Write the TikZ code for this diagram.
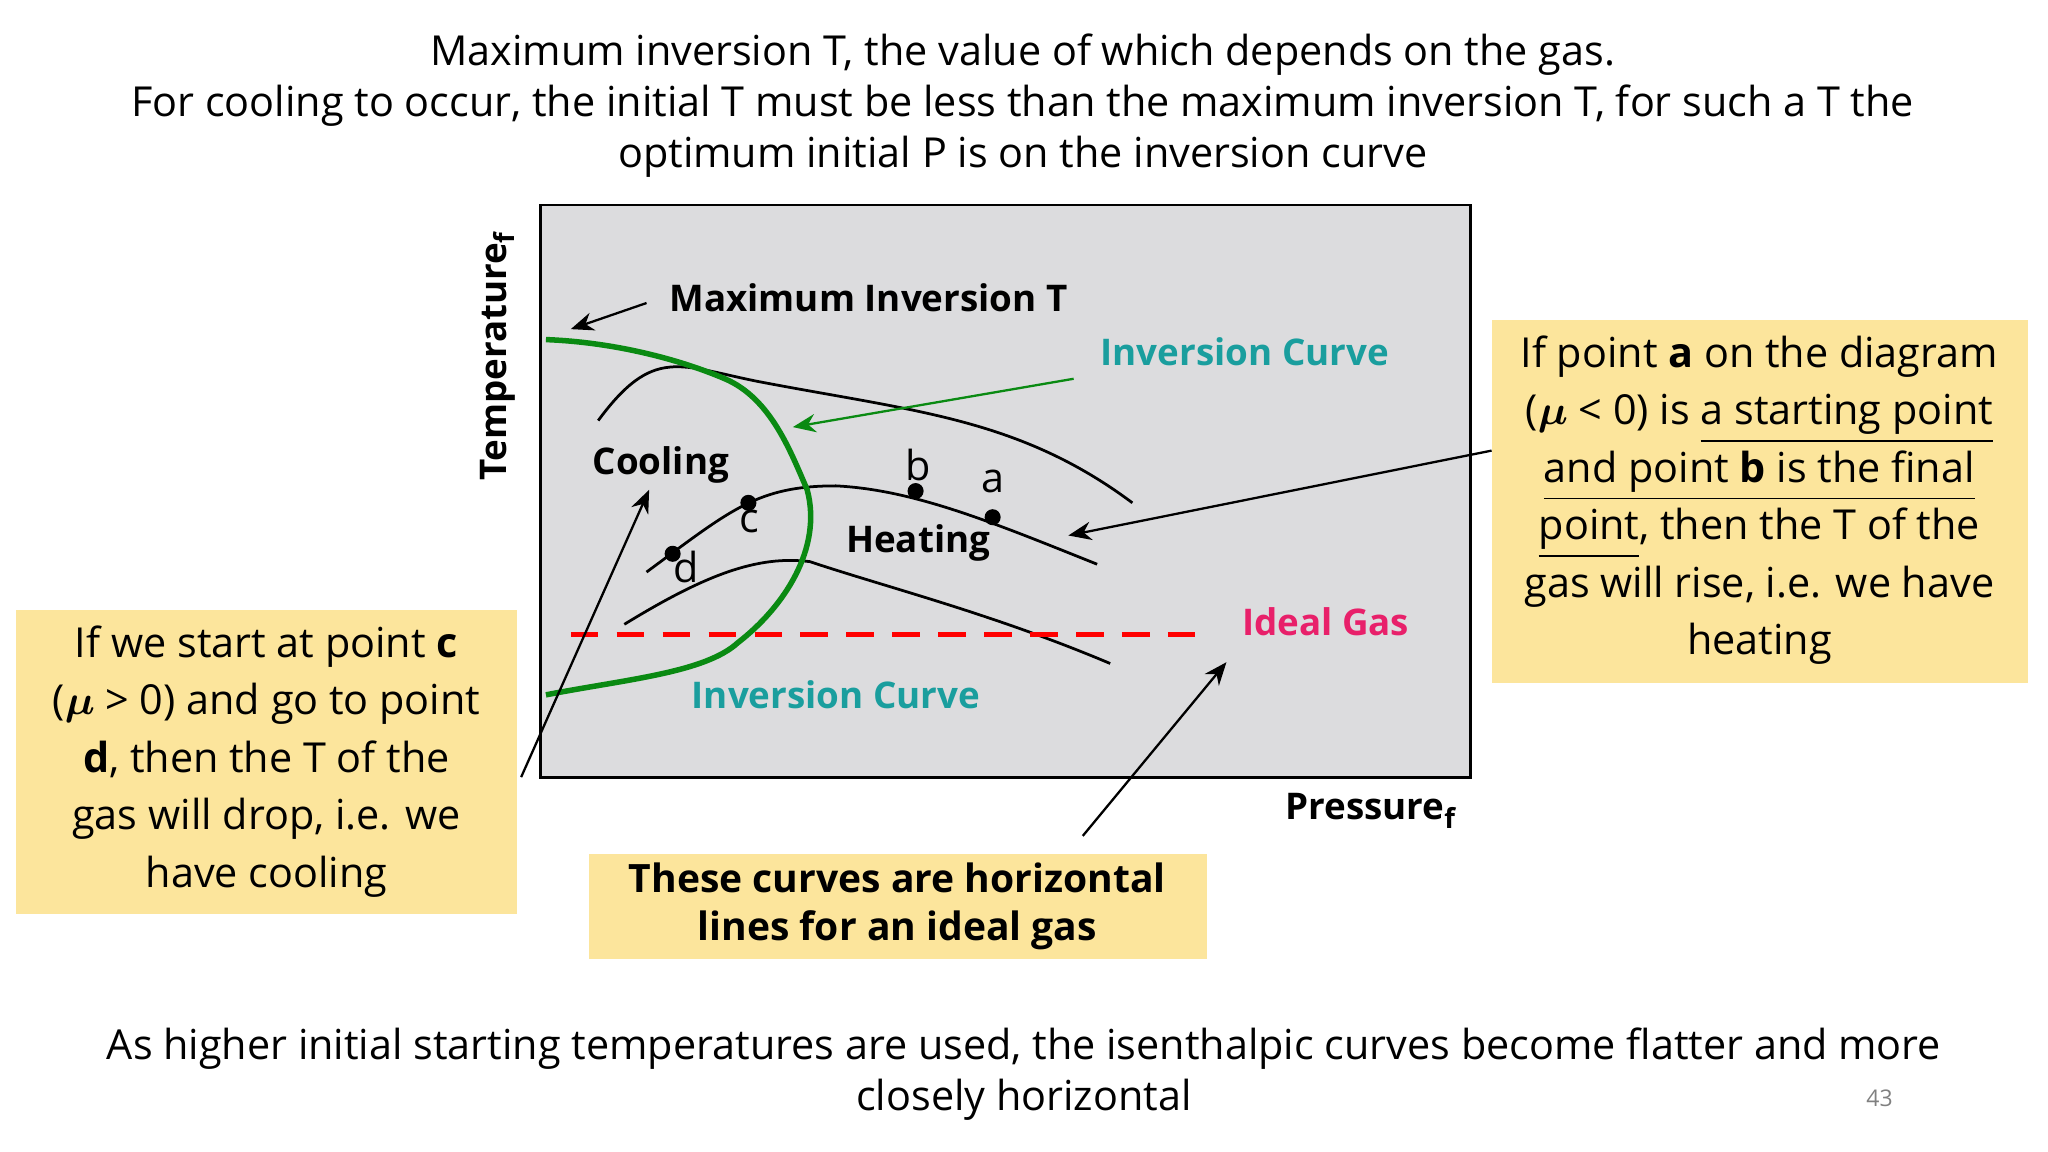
\documentclass[tikz,border=0pt]{standalone}
\usepackage{amsmath,amssymb}
\usepackage{bm}
\usepackage{fontspec}
\setmainfont{Open Sans}
\usetikzlibrary{arrows.meta}
\definecolor{boxy}{HTML}{FCE59C}
\definecolor{teal2}{HTML}{1A9E9E}
\definecolor{grn}{HTML}{0A8A12}
\definecolor{idc}{HTML}{E8206A}
\definecolor{plotbg}{HTML}{DCDCDE}
\tikzset{
 txt/.style={font=\fontsize{9}{11}\selectfont, inner sep=0pt, align=center},
 lbl/.style={font=\fontsize{8}{10}\selectfont\bfseries, inner sep=0pt},
 ybox/.style={fill=boxy, draw=none},
 thinarrow/.style={-{Stealth[length=5pt,width=4pt]}, line width=0.5pt},
 curv/.style={line width=0.6pt},
 dotn/.style={circle, fill=black, inner sep=0pt, minimum size=3.5pt},
}
\begin{document}
\begin{tikzpicture}[x=0.01cm,y=-0.01cm]
\useasboundingbox (0,0) rectangle (1568,882);
\fill[white] (0,0) rectangle (1568,882);
% title
\node[txt] (t1) at (783,42) {Maximum inversion T, the value of which depends on the gas.};
\node[txt] (t2) at (783,81) {For cooling to occur, the initial T must be less than the maximum inversion T, for such a T the};
\node[txt] (t3) at (783,120) {optimum initial P is on the inversion curve};
% plot box
\draw[fill=plotbg, line width=0.6pt] (414,157) rectangle (1126,595);
\node[lbl, rotate=90] (ty) at (381,272) {Temperature\textsubscript{f}};
\node[lbl] (px) at (1050,621) {Pressure\textsubscript{f}};
% curves
\draw[curv] (458,322) .. controls (500,265) and (520,280) .. (580,292) .. controls (700,315) and (780,320) .. (867,385);
\draw[curv] (495,438) .. controls (560,390) and (580,372) .. (640,372) .. controls (700,375) and (760,400) .. (840,432);
\draw[curv] (478,478) .. controls (540,440) and (580,425) .. (620,430) .. controls (680,450) and (760,470) .. (850,508);
\draw[grn, line width=1.2pt] (418,260) .. controls (470,262) and (520,275) .. (555,290) .. controls (590,305) and (605,345) .. (618,375) .. controls (630,420) and (600,465) .. (565,492) .. controls (540,515) and (480,520) .. (418,532);
\draw[red, line width=1pt, dash pattern=on 6pt off 4pt] (437,486) -- (925,486);
% points
\node[dotn] (pc) at (573,385) {};
\node[dotn] (pd) at (515,424) {};
\node[dotn] (pb) at (701,376) {};
\node[dotn] (pa) at (760,396) {};
\node[txt] (lb) at (703,356) {b};
\node[txt] (la) at (760,369) {a};
\node[txt] (lc) at (574,399) {c};
\node[txt] (ld) at (525,434) {d};
\node[lbl] (cool) at (506,356) {Cooling};
\node[lbl] (heat) at (703,416) {Heating};
% labels
\node[lbl] (mit) at (665,228) {Maximum Inversion T};
\coordinate (mitA) at (495,232);
\coordinate (mitB) at (437,252);
\draw[thinarrow] (mitA) -- (mitB);
\node[lbl, text=teal2] (ic1) at (953,269) {Inversion Curve};
\coordinate (icA) at (822,290);
\coordinate (icB) at (607,327);
\draw[thinarrow, grn] (icA) -- (icB);
\node[lbl, text=teal2] (ic2) at (640,532) {Inversion Curve};
\node[lbl, text=idc] (ig) at (1015,476) {Ideal Gas};
% left box
\fill[ybox] (12,467) rectangle (396,700);
\node[txt, font=\fontsize{9}{12.5}\selectfont] (lt) at (204,583) {If we start at point \textbf{c}\\($\bm{\mu}$ > 0) and go to point\\\textbf{d}, then the T of the\\gas will drop, i.e. we\\have cooling};
\coordinate (lA) at (399,595);
\coordinate (lB) at (497,375);
\draw[thinarrow] (lA) -- (lB);
% right box
\fill[ybox] (1142,245) rectangle (1553,523);
\node[txt, font=\fontsize{9}{12.5}\selectfont] (rt) at (1347,383) {If point \textbf{a} on the diagram\\($\bm{\mu}$ < 0) is \underline{a starting point}\\\underline{and point \textbf{b} is the final}\\\underline{point}, then the T of the\\gas will rise, i.e. we have\\heating};
\coordinate (rA) at (1142,345);
\coordinate (rB) at (818,410);
\draw[thinarrow] (rA) -- (rB);
% bottom box
\fill[ybox] (451,654) rectangle (924,734);
\node[txt, font=\fontsize{8.5}{10.5}\selectfont\bfseries] (bt) at (687,694) {These curves are horizontal\\lines for an ideal gas};
\coordinate (bA) at (829,640);
\coordinate (bB) at (939,507);
\draw[thinarrow] (bA) -- (bB);
% bottom text
\node[txt] (f1) at (784,803) {As higher initial starting temperatures are used, the isenthalpic curves become flatter and more};
\node[txt] (f2) at (784,842) {closely horizontal};
\node[txt, text=gray, font=\fontsize{5}{6}\selectfont] (pg) at (1439,841) {43};
\end{tikzpicture}
\end{document}
